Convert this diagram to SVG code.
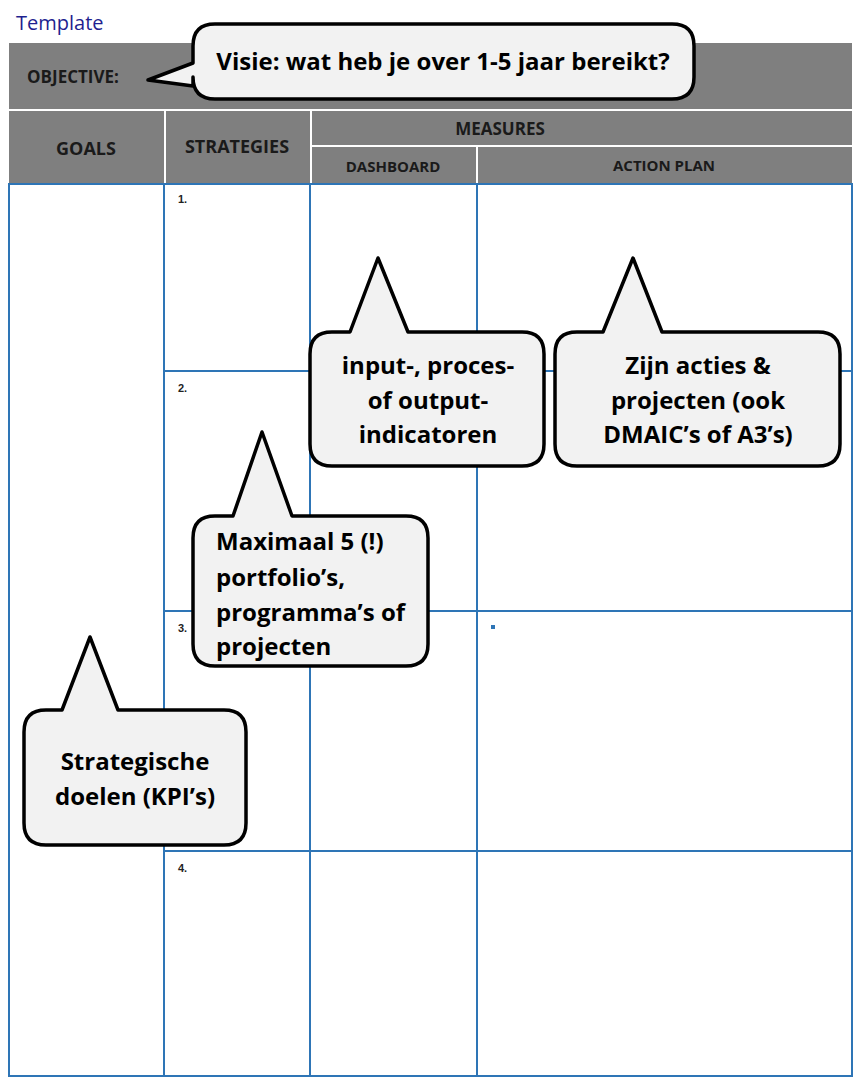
<svg xmlns="http://www.w3.org/2000/svg" width="854" height="1077" viewBox="0 0 854 1077">
<style>
.hdr{fill:#7f7f7f}
.hl{font-family:"Open Sans","Liberation Sans",sans-serif;font-weight:bold;fill:#1a1a1a;text-anchor:middle}
.grid{stroke:#2e75b6;stroke-width:2;fill:none}
.num{font-family:"Liberation Sans",sans-serif;font-weight:bold;font-size:11px;fill:#222}
.co{fill:#f2f2f2;stroke:#000;stroke-width:3.5;stroke-linejoin:round}
.ct{font-family:"Open Sans","Liberation Sans",sans-serif;font-weight:bold;font-size:24px;fill:#000}
</style>
<rect width="854" height="1077" fill="#fff"/>
<text x="16" y="30" font-family="Open Sans,Liberation Sans,sans-serif" font-size="20" fill="#1f1f8f">Template</text>
<g id="header">
<rect class="hdr" x="9" y="43" width="843" height="66"/>
<rect class="hdr" x="9" y="111" width="155" height="72"/>
<rect class="hdr" x="166" y="111" width="144" height="72"/>
<rect class="hdr" x="312" y="111" width="540" height="34"/>
<rect class="hdr" x="312" y="147" width="164" height="36"/>
<rect class="hdr" x="478" y="147" width="374" height="36"/>
<text class="hl" x="73" y="83" font-size="17">OBJECTIVE:</text>
<text class="hl" x="86" y="155" font-size="18">GOALS</text>
<text class="hl" x="237" y="153" font-size="18">STRATEGIES</text>
<text class="hl" x="500" y="135" font-size="17">MEASURES</text>
<text class="hl" x="393" y="172" font-size="15">DASHBOARD</text>
<text class="hl" x="664" y="171" font-size="15">ACTION PLAN</text>
</g>
<g id="grid">
<rect class="grid" x="9" y="184" width="843" height="892"/>
<path class="grid" d="M164 184V1076M310 184V1076M477 184V1076M164 371H852M164 611H852M164 851H852"/>
<text class="num" x="178" y="203">1.</text>
<text class="num" x="178" y="392">2.</text>
<text class="num" x="178" y="632">3.</text>
<text class="num" x="178" y="872">4.</text>
<rect x="491" y="625" width="4" height="4" fill="#2e75b6"/>
</g>
<g id="callout-visie">
<path class="co" d="M215 24H672Q694 24 694 46V77Q694 99 672 99H215Q193 99 193 77V86L148 80L193 63V46Q193 24 215 24Z"/>
<text class="ct" x="443" y="70" text-anchor="middle" font-size="25">Visie: wat heb je over 1-5 jaar bereikt?</text>
</g>
<g id="callout-dashboard">
<path class="co" d="M332 332H350L378 258L408 332H522Q544 332 544 354V444Q544 466 522 466H332Q310 466 310 444V354Q310 332 332 332Z"/>
<text class="ct" text-anchor="middle"><tspan x="428" y="374">input-, proces-</tspan><tspan x="428" y="409">of output-</tspan><tspan x="428" y="443">indicatoren</tspan></text>
</g>
<g id="callout-actions">
<path class="co" d="M577 332H603L633 258L662 332H818Q840 332 840 354V444Q840 466 818 466H577Q555 466 555 444V354Q555 332 577 332Z"/>
<text class="ct" text-anchor="middle"><tspan x="698" y="374">Zijn acties &amp;</tspan><tspan x="698" y="409">projecten (ook</tspan><tspan x="698" y="443">DMAIC’s of A3’s)</tspan></text>
</g>
<g id="callout-strategies">
<path class="co" d="M215 516H233L262 432L292 516H406Q428 516 428 538V644Q428 666 406 666H215Q193 666 193 644V538Q193 516 215 516Z"/>
<text class="ct"><tspan x="216" y="550">Maximaal 5 (!)</tspan><tspan x="216" y="586">portfolio’s,</tspan><tspan x="216" y="621">programma’s of</tspan><tspan x="216" y="655">projecten</tspan></text>
</g>
<g id="callout-goals">
<path class="co" d="M46 710H62L90 637L118 710H224Q246 710 246 732V823Q246 845 224 845H46Q24 845 24 823V732Q24 710 46 710Z"/>
<text class="ct" text-anchor="middle"><tspan x="135" y="770">Strategische</tspan><tspan x="135" y="805">doelen (KPI’s)</tspan></text>
</g>
</svg>
